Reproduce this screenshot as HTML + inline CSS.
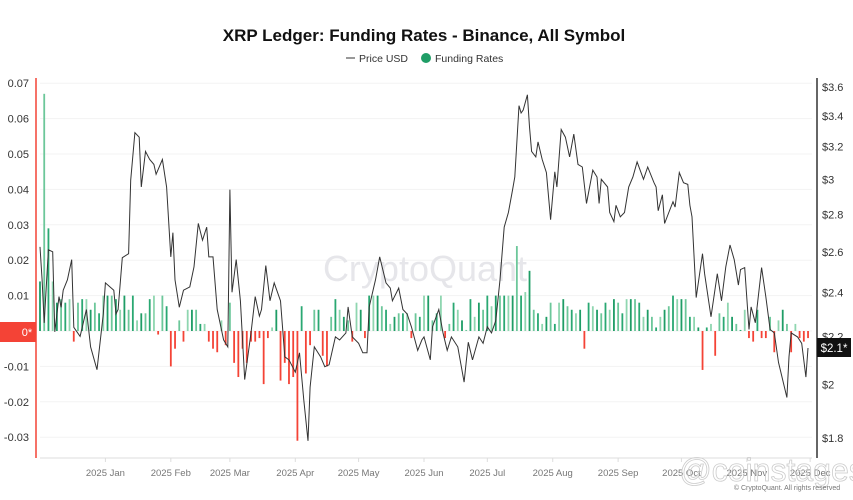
<!DOCTYPE html>
<html><head><meta charset="utf-8"><style>
body{margin:0;background:#fff;font-family:"Liberation Sans",sans-serif;}
#wrap{position:relative;width:853px;height:500px;overflow:hidden;}
svg text{font-family:"Liberation Sans",sans-serif;}
</style></head><body>
<div id="wrap">
<svg id="chart" width="853" height="500">
<text x="424" y="41" text-anchor="middle" font-size="17" font-weight="bold" fill="#111">XRP Ledger: Funding Rates - Binance, All Symbol</text>
<g>
<g><line x1="346" y1="58" x2="355" y2="58" stroke="#333" stroke-width="1"/><text x="359" y="62" font-size="10.5" fill="#333">Price USD</text></g>
<g><circle cx="426" cy="58" r="5" fill="#1f9d66"/><text x="435" y="62" font-size="10.5" fill="#333">Funding Rates</text></g>
</g>
<g id="grid"></g>
<text x="425" y="281" text-anchor="middle" font-size="36" fill="#e6e6ea">CryptoQuant</text>
<g id="bars"></g>
<path id="priceLine" fill="none" stroke="#333" stroke-width="1"/>
<line x1="36" y1="78" x2="36" y2="458" stroke="#f44336" stroke-width="1.5"/>
<line x1="817" y1="78" x2="817" y2="458" stroke="#333" stroke-width="1.5"/>
<line x1="40" y1="458" x2="812" y2="458" stroke="#ddd" stroke-width="1"/>
<g id="ly"></g>
<g id="ry"></g>
<g id="xa"></g>
<g><rect x="0" y="322" width="36" height="20" fill="#f44336"/><text x="27" y="336" text-anchor="middle" font-size="11" fill="#fff">0*</text></g>
<g><rect x="817" y="338" width="34" height="19" fill="#111"/><text x="834" y="352" text-anchor="middle" font-size="11.5" fill="#fff">$2.1*</text></g>
<text x="772" y="481" text-anchor="middle" font-size="32" fill="none" stroke="#ccc" stroke-width="0.8">@coinstages</text>
<text x="787" y="490" text-anchor="middle" font-size="7" fill="#777">© CryptoQuant. All rights reserved</text>
</svg>
</div>
<script>
const leftTicks=[0.07,0.06,0.05,0.04,0.03,0.02,0.01,0,-0.01,-0.02,-0.03];
const leftTickLabels=["0.07","0.06","0.05","0.04","0.03","0.02","0.01","","-0.01","-0.02","-0.03"];
const rightTicks=[3.6,3.4,3.2,3,2.8,2.6,2.4,2.2,2,1.8];
const rightTickLabels=["$3.6","$3.4","$3.2","$3","$2.8","$2.6","$2.4","$2.2","$2","$1.8"];
const monthLabels=["2025 Jan","2025 Feb","2025 Mar","2025 Apr","2025 May","2025 Jun","2025 Jul","2025 Aug","2025 Sep","2025 Oct","2025 Nov","2025 Dec"];
const monthDays=[31,62,90,121,151,182,212,243,274,304,335,365];
// funding rate, one value per 2 days starting 2024-12-01
const fundingRates=[0.014,0.067,0.029,0.014,0.008,0.009,0.008,0.009,-0.003,0.008,0.009,0.009,0.006,0.008,0.005,0.010,0.010,0.010,0.009,0.006,0.010,0.006,0.010,0.003,0.005,0.005,0.009,0.010,-0.001,0.010,0.007,-0.010,-0.005,0.003,-0.003,0.006,0.006,0.006,0.002,0.002,-0.003,-0.005,-0.006,0.003,-0.004,0.008,-0.009,
-0.013,-0.005,-0.009,-0.003,-0.003,-0.002,-0.015,-0.002,0.001,0.006,-0.014,-0.009,-0.015,-0.013,-0.031,0.007,-0.012,-0.004,0.006,0.006,-0.007,-0.010,0.004,0.009,0.006,0.004,0.003,-0.003,0.008,0.006,-0.002,0.010,0.010,0.010,0.007,0.006,0.002,0.004,0.005,0.005,0.005,-0.002,0.005,0.004,0.010,0.010,
0.003,0.005,0.010,-0.002,0.002,0.008,0.006,0.003,0.0003,0.009,0.004,0.008,0.006,0.010,0.007,0.010,0.010,0.010,0.010,0.010,0.024,0.010,0.011,0.017,0.006,0.005,0.002,0.004,0.008,0.002,0.008,0.009,0.007,0.006,0.005,0.006,-0.005,0.008,0.007,0.006,0.005,0.008,0.006,0.009,0.008,0.005,
0.009,0.009,0.009,0.008,0.004,0.006,0.004,0.001,0.004,0.006,0.007,0.010,0.009,0.009,0.009,0.004,0.004,0.001,-0.011,0.001,0.002,-0.007,0.005,0.004,0.008,0.004,0.002,0.0003,0.006,-0.002,-0.003,0.006,-0.002,-0.002,0.004,-0.006,0.003,0.006,0.002,-0.006,0.002,-0.002,-0.003,-0.002];
const priceDays=[0,1,2,4,6,7,9,10,11,13,15,16,19,22,24,27,30,31,35,36,37,39,42,43,45,47,48,50,52,54,55,58,60,62,63,64,66,68,71,73,75,77,79,80,82,84,87,89,90,91,93,95,97,100,102,104,105,107,109,111,114,116,118,121,123,125,127,128,130,133,135,137,140,142,145,146,148,151,153,155,156,159,161,164,166,167,170,172,174,176,179,181,182,185,186,189,191,193,195,198,201,203,205,208,210,212,214,216,218,220,222,224,225,227,228,229,231,232,233,235,236,238,240,242,244,245,247,249,251,253,255,257,259,262,264,265,266,269,270,272,273,275,277,279,281,283,286,288,291,292,293,295,296,298,300,301,303,305,307,308,309,311,314,315,318,321,323,325,327,329,331,332,334,336,337,339,342,344,346,348,350,354,355,356,359,361,363,364];
const priceValues=[2.625,2.46,2.26,2.61,2.60,2.22,2.38,2.33,2.41,2.46,2.56,2.24,2.20,2.32,2.155,2.06,2.30,2.445,2.41,2.30,2.32,2.57,2.59,2.995,3.29,3.26,2.955,3.17,3.12,3.09,3.03,3.12,2.955,2.574,2.70,2.46,2.33,2.41,2.426,2.524,2.75,2.66,2.73,2.574,2.574,2.32,2.185,2.155,2.94,2.40,2.56,2.36,2.02,2.215,2.38,2.29,2.32,2.53,2.36,2.445,2.36,2.113,2.10,2.05,2.13,1.94,1.79,1.99,2.155,2.113,2.072,2.08,2.198,2.185,2.215,2.332,2.198,2.17,2.13,2.13,2.332,2.46,2.574,2.445,2.42,2.36,2.42,2.32,2.30,2.242,2.14,2.185,2.198,2.10,2.242,2.32,2.215,2.14,2.198,2.155,2.01,2.175,2.10,2.198,2.17,2.242,2.215,2.27,2.46,2.73,2.81,2.94,3.014,3.47,3.42,3.44,3.545,3.327,3.17,3.136,3.23,3.12,3.04,2.77,3.045,2.955,3.31,3.26,3.136,3.28,3.09,3.074,2.86,3.055,3.014,2.86,3.00,2.955,2.81,2.76,2.85,2.786,2.81,2.955,3.014,3.105,3.00,3.074,2.98,2.955,2.82,2.91,2.75,2.81,2.87,2.84,3.04,2.98,2.97,2.85,2.786,2.375,2.59,2.49,2.287,2.49,2.36,2.524,2.635,2.56,2.435,2.51,2.52,2.23,2.332,2.26,2.52,2.38,2.23,2.215,2.09,1.95,2.113,2.215,2.198,2.17,2.03,2.15];

const NS="http://www.w3.org/2000/svg";
function xDay(d){return 40+d*2.11;}
function yRate(v){return 331-v*3540;}
function yPrice(p){return 87+(Math.log(3.6)-Math.log(p))*506.4;}
function mk(tag,attrs,parent){const e=document.createElementNS(NS,tag);for(const k in attrs)e.setAttribute(k,attrs[k]);parent.appendChild(e);return e;}
const grid=document.getElementById('grid'),ly=document.getElementById('ly'),ry=document.getElementById('ry'),xa=document.getElementById('xa'),bars=document.getElementById('bars');
leftTicks.forEach((t,i)=>{
  const y=yRate(t);
  const g=mk('line',{x1:40,x2:812,y1:y,y2:y,stroke:'#f3f3f3','stroke-width':1},grid);
  
  
  if(leftTickLabels[i]){
    const tx=mk('text',{x:29,y:y+4,'text-anchor':'end','font-size':11,fill:'#333'},ly);
    tx.textContent=leftTickLabels[i];
    
    
  }
});
rightTicks.forEach((t,i)=>{
  const tx=mk('text',{x:822,y:yPrice(t)+4,'font-size':11,fill:'#333'},ry);
  tx.textContent=rightTickLabels[i];
  
  
});
monthLabels.forEach((m,i)=>{
  const x=xDay(monthDays[i]);
  const tk=mk('line',{x1:x,x2:x,y1:458,y2:462,stroke:'#ddd'},xa);
  
  
  const tx=mk('text',{x:x,y:476,'text-anchor':'middle','font-size':9.5,fill:'#777'},xa);
  tx.textContent=m;
  
  
});
const greens=['#1f9d66','#6cc79a','#2aa872','#8fd6b0'];
fundingRates.forEach((v,i)=>{
  const x=xDay(i*2);
  const y0=yRate(0),y1=yRate(v);
  const r=mk('rect',{x:x-0.9,y:Math.min(y0,y1),width:1.8,height:Math.max(0.5,Math.abs(y1-y0)),fill:v>=0?greens[i%4]:'#f44336'},bars);
  
  
});
let d='';
priceDays.forEach((dd,i)=>{d+=(i?'L':'M')+xDay(dd).toFixed(1)+' '+yPrice(priceValues[i]).toFixed(1)+' ';});
document.getElementById('priceLine').setAttribute('d',d);
</script>
</body></html>
